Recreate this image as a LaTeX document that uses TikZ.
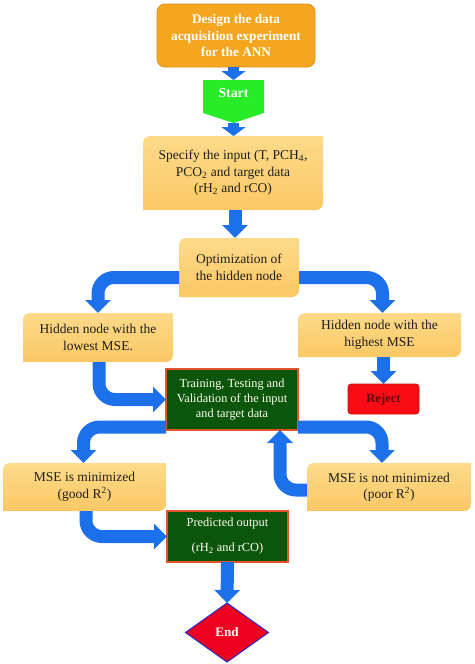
\documentclass[tikz,border=0pt]{standalone}
\usepackage{fontspec}
\setmainfont{Liberation Serif}
\usetikzlibrary{arrows.meta,shapes.geometric}
\definecolor{arrowblue}{RGB}{28,112,234}
\definecolor{orangefill}{RGB}{245,166,32}
\definecolor{orangeedge}{RGB}{226,140,20}
\definecolor{lighttop}{RGB}{253,218,138}
\definecolor{lightbot}{RGB}{250,200,100}
\definecolor{startgreen}{RGB}{40,236,40}
\definecolor{traingreen}{RGB}{12,86,12}
\definecolor{trainedge}{RGB}{228,84,40}
\definecolor{rejectred}{RGB}{250,12,22}
\definecolor{rejecttext}{RGB}{95,10,10}
\definecolor{endred}{RGB}{238,0,32}
\definecolor{endedge}{RGB}{40,40,200}
\begin{document}
\begin{tikzpicture}[x=1pt,y=-1pt,
  box/.style={anchor=north west, inner sep=0pt, outer sep=0pt, align=center},
  lightbox/.style={box, text=black!88, font=\fontsize{13.5}{16.5}\selectfont,
    path picture={\shade[top color=lighttop, bottom color=lightbot]
      (path picture bounding box.south west) -- ([yshift=-7pt]path picture bounding box.north west)
      to[out=90,in=180] ([xshift=7pt]path picture bounding box.north west)
      -- (path picture bounding box.north east) -- ([yshift=7pt]path picture bounding box.south east)
      to[out=-90,in=0] ([xshift=-7pt]path picture bounding box.south east) -- cycle;}},
  titlebox/.style={box, fill=orangefill, draw=orangeedge, line width=0.8pt, rounded corners=8pt,
    text=white, font=\fontsize{13.3}{16.5}\selectfont\bfseries},
  startbox/.style={box, text=white, font=\fontsize{13.8}{16}\selectfont\bfseries,
    text height=9pt, text depth=17pt,
    path picture={\fill[startgreen] (path picture bounding box.north west) -- (path picture bounding box.north east)
      -- ([yshift=10pt]path picture bounding box.south east) -- (path picture bounding box.south)
      -- ([yshift=10pt]path picture bounding box.south west) -- cycle;}},
  greenbox/.style={box, fill=traingreen, draw=trainedge, line width=1.2pt, text=white!95!yellow},
  rejectbox/.style={box, fill=rejectred, draw=rejectred!80!black, line width=0.6pt, rounded corners=3pt,
    text=rejecttext, font=\fontsize{12.6}{15}\selectfont\bfseries},
  endbox/.style={diamond, inner sep=0pt, outer sep=0pt, fill=endred, draw=endedge, line width=1pt,
    text=white, font=\fontsize{13}{15}\selectfont\bfseries},
  fat/.style={draw=arrowblue, line width=13pt, -{Triangle[width=25pt,length=13pt]}, rounded corners=16pt},
  fatsmall/.style={draw=arrowblue, line width=11pt, -{Triangle[width=24pt,length=9pt]}},
]
\useasboundingbox (0,0) rectangle (474,664);

% nodes
\node[titlebox, minimum width=158pt, minimum height=63pt] (design) at (157,4)
  {Design the data\\acquisition experiment\\for the ANN};
\node[startbox, minimum width=61pt, minimum height=43pt] (start) at (203,80) {Start};
\node[lightbox, minimum width=180pt, minimum height=74pt] (spec) at (143,136)
  {Specify the input (T, PCH\textsubscript{4},\\PCO\textsubscript{2} and target data\\(rH\textsubscript{2} and rCO)};
\node[lightbox, minimum width=120pt, minimum height=59pt] (opt) at (179,238)
  {Optimization of\\the hidden node};
\node[lightbox, minimum width=150pt, minimum height=49pt] (low) at (23,313)
  {Hidden node with the\\lowest MSE.};
\node[lightbox, minimum width=163pt, minimum height=44pt] (high) at (298,313)
  {Hidden node with the\\highest MSE};
\node[rejectbox, minimum width=71pt, minimum height=30pt] (reject) at (348,384) {Reject};
\node[greenbox, minimum width=132pt, minimum height=61pt, font=\fontsize{12.3}{15}\selectfont] (train) at (166,369)
  {Training, Testing and\\Validation of the input\\and target data};
\node[lightbox, minimum width=163pt, minimum height=48pt] (mmin) at (3,463)
  {MSE is minimized\\(good R\textsuperscript{2})};
\node[lightbox, minimum width=164pt, minimum height=48pt] (mnot) at (307,463)
  {MSE is not minimized\\(poor R\textsuperscript{2})};
\node[greenbox, minimum width=121pt, minimum height=51pt, font=\fontsize{12.4}{25}\selectfont] (pred) at (167,511)
  {Predicted output\\(rH\textsubscript{2} and rCO)};
\node[endbox, minimum width=83pt, minimum height=59pt] (end) at (227,632.5) {End};

% connectors
\draw[fatsmall] (design.south -| start.north) -- (start.north);
\draw[fatsmall] (start.south) -- (start.south |- spec.north);
\draw[fat] ([xshift=2pt]spec.south) -- ([xshift=2pt]spec.south |- opt.north);
\draw[fat] ([yshift=-10pt]opt.west) -| (low.north);
\draw[fat] ([yshift=-10pt]opt.east) -| ([xshift=3pt]high.north);
\draw[fat] (high.south -| reject.north) -- (reject.north);
\draw[fat] ([xshift=1pt]low.south) |- (train.west);
\draw[fat] ([yshift=3pt]train.south west) -| ([xshift=-1pt]mmin.north);
\draw[fat] ([yshift=3pt]train.south east) -| ([xshift=-7pt]mnot.north);
\draw[fat] ([yshift=-3pt]mnot.west) -| ([xshift=48pt]train.south);
\draw[fat] ([xshift=1.5pt]mmin.south) |- (pred.west);
\draw[fat] (pred.south) -- (end.north);
\end{tikzpicture}
\end{document}
